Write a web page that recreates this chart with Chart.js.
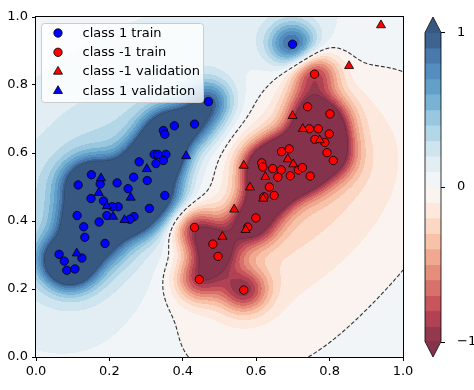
<!DOCTYPE html>
<html>
<head>
<meta charset="utf-8">
<script src="https://cdn.jsdelivr.net/npm/chart.js@4.4.1/dist/chart.umd.min.js"></script>
<style>
  html, body { margin: 0; padding: 0; background: #ffffff; }
  #vis { width: 474px; height: 390px; }
</style>
</head>
<body>
<div id="vis"><canvas id="svmChart" width="474" height="390" style="width:474px;height:390px"></canvas></div>
<script>
// points, [x, y]
const classOneTrain = [
  [0.377, 0.680], [0.432, 0.685], [0.347, 0.666], [0.351, 0.655], [0.322, 0.596],
  [0.332, 0.596], [0.354, 0.596], [0.327, 0.569], [0.347, 0.578], [0.281, 0.574],
  [0.151, 0.536], [0.115, 0.506], [0.221, 0.512], [0.266, 0.529], [0.303, 0.519],
  [0.251, 0.495], [0.175, 0.509], [0.150, 0.466], [0.184, 0.459], [0.224, 0.442],
  [0.208, 0.442], [0.351, 0.475], [0.309, 0.437], [0.193, 0.416], [0.267, 0.413],
  [0.256, 0.405], [0.112, 0.416], [0.172, 0.397], [0.130, 0.383], [0.133, 0.352],
  [0.188, 0.334], [0.063, 0.302], [0.077, 0.282], [0.125, 0.291], [0.084, 0.255],
  [0.106, 0.259], [0.470, 0.751], [0.699, 0.920]
];
const classMinusOneTrain = [
  [0.740, 0.736], [0.801, 0.715], [0.745, 0.671], [0.769, 0.671], [0.799, 0.656],
  [0.760, 0.640], [0.787, 0.631], [0.793, 0.601], [0.810, 0.578], [0.669, 0.604],
  [0.690, 0.612], [0.615, 0.571], [0.618, 0.559], [0.645, 0.554], [0.668, 0.550],
  [0.715, 0.550], [0.726, 0.557], [0.659, 0.529], [0.693, 0.533], [0.747, 0.532],
  [0.636, 0.500], [0.649, 0.475], [0.621, 0.471], [0.599, 0.409], [0.577, 0.382],
  [0.432, 0.381], [0.482, 0.332], [0.496, 0.296], [0.445, 0.228], [0.566, 0.197],
  [0.759, 0.832]
];
const classMinusOneVal = [
  [0.699, 0.709], [0.727, 0.671], [0.773, 0.638], [0.686, 0.582], [0.701, 0.567],
  [0.566, 0.563], [0.625, 0.530], [0.583, 0.499], [0.619, 0.466], [0.540, 0.434],
  [0.571, 0.374], [0.508, 0.354], [0.940, 0.976], [0.853, 0.856]
];
const classOneVal = [
  [0.409, 0.591], [0.302, 0.553], [0.177, 0.526], [0.171, 0.483], [0.258, 0.469],
  [0.193, 0.444], [0.210, 0.413], [0.241, 0.403], [0.111, 0.305]
];

const axisTicks = [0.0, 0.2, 0.4, 0.6, 0.8, 1.0];
const colorbarTicks = [-1, 0, 1];
const contourLevels = [-1.0, -0.9, -0.8, -0.7, -0.6, -0.5, -0.4, -0.3, -0.2, -0.1, 0.0,
                       0.1, 0.2, 0.3, 0.4, 0.5, 0.6, 0.7, 0.8, 0.9, 1.0];
const legendLabels = ['class 1 train', 'class -1 train', 'class -1 validation', 'class 1 validation'];

// kernel model of the decision function, fitted by eye:
// a narrow bump per training point plus a wide, density-normalised class "presence"
const bias = 0.044;
const narrowAmp = 0.85, narrowSigma = 0.045, narrowPower = 0.5;
const wideAmp = 0.35, wideSigma = 0.2;
const fillAlpha = 0.8;

const gNarrow = 1 / (2 * narrowSigma * narrowSigma);
const gWide = 1 / (2 * wideSigma * wideSigma);

function densityWeights(points, g, power) {
    return points.map(p => Math.pow(points.reduce((s, q) => {
        const dx = p[0] - q[0], dy = p[1] - q[1];
        return s + Math.exp(-(dx * dx + dy * dy) * g);
    }, 0), -power));
}
const blueWide = densityWeights(classOneTrain, gWide, 1);
const redWide = densityWeights(classMinusOneTrain, gWide, 1);
const blueNarrow = densityWeights(classOneTrain, gNarrow, narrowPower);
const redNarrow = densityWeights(classMinusOneTrain, gNarrow, narrowPower);

function decision(x, y) {
    let s = bias;
    classOneTrain.forEach((p, i) => {
        const dx = x - p[0], dy = y - p[1];
        const d2 = dx * dx + dy * dy;
        s += narrowAmp * blueNarrow[i] * Math.exp(-d2 * gNarrow) + wideAmp * blueWide[i] * Math.exp(-d2 * gWide);
    });
    classMinusOneTrain.forEach((p, i) => {
        const dx = x - p[0], dy = y - p[1];
        const d2 = dx * dx + dy * dy;
        s -= narrowAmp * redNarrow[i] * Math.exp(-d2 * gNarrow) + wideAmp * redWide[i] * Math.exp(-d2 * gWide);
    });
    return s;
}

// matplotlib RdBu
const rdbu = [
    [103, 0, 31], [178, 24, 43], [214, 96, 77], [244, 165, 130], [253, 219, 199],
    [247, 247, 247], [209, 229, 240], [146, 197, 222], [67, 147, 195], [33, 102, 172],
    [5, 48, 97]
];
function cmap(t) {
    t = Math.min(1, Math.max(0, t)) * (rdbu.length - 1);
    const i = Math.min(rdbu.length - 2, Math.floor(t));
    const f = t - i;
    return [0, 1, 2].map(c => rdbu[i][c] + (rdbu[i + 1][c] - rdbu[i][c]) * f);
}
function blend(c) {
    return c.map(v => Math.round(v * fillAlpha + 255 * (1 - fillAlpha)));
}
const nBands = contourLevels.length - 1;
const bandColors = [];
for (let k = 0; k < nBands; k++) bandColors.push(blend(cmap((k + 0.5) / nBands)));
const underColor = blend(cmap(0));
const overColor = blend(cmap(1));
const rgb = c => 'rgb(' + c[0] + ',' + c[1] + ',' + c[2] + ')';

function colorFor(v) {
    if (v < contourLevels[0]) return underColor;
    if (v >= contourLevels[nBands]) return overColor;
    let k = Math.floor((v - contourLevels[0]) / (contourLevels[1] - contourLevels[0]));
    if (k < 0) k = 0;
    if (k > nBands - 1) k = nBands - 1;
    return bandColors[k];
}

// marching squares, returns chained polylines in data coords
function contourLines(level, n) {
    const vals = new Float64Array((n + 1) * (n + 1));
    for (let i = 0; i <= n; i++)
        for (let j = 0; j <= n; j++)
            vals[i * (n + 1) + j] = decision(i / n, j / n) - level;
    const V = (i, j) => vals[i * (n + 1) + j];
    const pts = new Map();
    const hEdge = (i, j) => {
        const id = 2 * (i * (n + 1) + j);
        if (!pts.has(id)) { const a = V(i, j), b = V(i + 1, j); const t = a / (a - b); pts.set(id, [(i + t) / n, j / n]); }
        return id;
    };
    const vEdge = (i, j) => {
        const id = 2 * (i * (n + 1) + j) + 1;
        if (!pts.has(id)) { const a = V(i, j), b = V(i, j + 1); const t = a / (a - b); pts.set(id, [i / n, (j + t) / n]); }
        return id;
    };
    const segs = [];
    const adj = new Map();
    const addSeg = (e1, e2) => {
        const k = segs.length;
        segs.push([e1, e2]);
        if (!adj.has(e1)) adj.set(e1, []);
        if (!adj.has(e2)) adj.set(e2, []);
        adj.get(e1).push(k);
        adj.get(e2).push(k);
    };
    for (let i = 0; i < n; i++) {
        for (let j = 0; j < n; j++) {
            const a = V(i, j) > 0, b = V(i + 1, j) > 0, c = V(i + 1, j + 1) > 0, d = V(i, j + 1) > 0;
            const crossed = [];
            if (a !== b) crossed.push(hEdge(i, j));
            if (b !== c) crossed.push(vEdge(i + 1, j));
            if (c !== d) crossed.push(hEdge(i, j + 1));
            if (d !== a) crossed.push(vEdge(i, j));
            if (crossed.length === 2) {
                addSeg(crossed[0], crossed[1]);
            } else if (crossed.length === 4) {
                const centre = (V(i, j) + V(i + 1, j) + V(i + 1, j + 1) + V(i, j + 1)) > 0;
                const bottom = crossed[0], right = crossed[1], top = crossed[2], left = crossed[3];
                if (a !== centre) addSeg(left, bottom);
                if (b !== centre) addSeg(bottom, right);
                if (c !== centre) addSeg(right, top);
                if (d !== centre) addSeg(top, left);
            }
        }
    }
    const used = new Uint8Array(segs.length);
    const chains = [];
    const walk = (start, chain, push) => {
        let cur = start;
        for (;;) {
            const next = (adj.get(cur) || []).find(k => !used[k]);
            if (next === undefined) break;
            used[next] = 1;
            const other = segs[next][0] === cur ? segs[next][1] : segs[next][0];
            push ? chain.push(other) : chain.unshift(other);
            cur = other;
        }
    };
    for (let s = 0; s < segs.length; s++) {
        if (used[s]) continue;
        used[s] = 1;
        const chain = [segs[s][0], segs[s][1]];
        walk(segs[s][1], chain, true);
        walk(segs[s][0], chain, false);
        chains.push(chain.map(id => pts.get(id)));
    }
    return chains;
}

let fieldCanvas = null;
let zeroChains = null, plusChains = null, minusChains = null;

function strokeChains(ctx, chains, xs, ys) {
    for (const ch of chains) {
        ctx.beginPath();
        ch.forEach((p, i) => {
            const px = xs.getPixelForValue(p[0]), py = ys.getPixelForValue(p[1]);
            if (i === 0) ctx.moveTo(px, py); else ctx.lineTo(px, py);
        });
        ctx.stroke();
    }
}

const fieldPlugin = {
    id: 'decisionField',
    beforeDatasetsDraw(chart) {
        const {ctx, chartArea} = chart;
        const xs = chart.scales.x, ys = chart.scales.y;
        const left = Math.round(chartArea.left), top = Math.round(chartArea.top);
        const w = Math.round(chartArea.right) - left, h = Math.round(chartArea.bottom) - top;

        if (!fieldCanvas) {
            fieldCanvas = document.createElement('canvas');
            fieldCanvas.width = w;
            fieldCanvas.height = h;
            const fctx = fieldCanvas.getContext('2d');
            const img = fctx.createImageData(w, h);
            const xv = [];
            for (let px = 0; px < w; px++) xv.push(xs.getValueForPixel(left + px + 0.5));
            for (let py = 0; py < h; py++) {
                const yv = ys.getValueForPixel(top + py + 0.5);
                for (let px = 0; px < w; px++) {
                    const c = colorFor(decision(xv[px], yv));
                    const o = (py * w + px) * 4;
                    img.data[o] = c[0]; img.data[o + 1] = c[1]; img.data[o + 2] = c[2]; img.data[o + 3] = 255;
                }
            }
            fctx.putImageData(img, 0, 0);
            zeroChains = contourLines(0, 220);
            plusChains = contourLines(1, 220);
            minusChains = contourLines(-1, 220);
        }
        ctx.save();
        ctx.drawImage(fieldCanvas, left, top);

        ctx.beginPath();
        ctx.rect(chartArea.left, chartArea.top, chartArea.right - chartArea.left, chartArea.bottom - chartArea.top);
        ctx.clip();

        ctx.lineWidth = 0.6;
        ctx.strokeStyle = 'rgba(0,0,0,0.25)';
        strokeChains(ctx, plusChains, xs, ys);
        strokeChains(ctx, minusChains, xs, ys);

        ctx.lineWidth = 1.1;
        ctx.strokeStyle = '#333333';
        ctx.setLineDash([4, 2]);
        strokeChains(ctx, zeroChains, xs, ys);
        ctx.restore();

        // spines
        ctx.save();
        ctx.strokeStyle = '#000';
        ctx.lineWidth = 1;
        ctx.strokeRect(left - 0.5, top - 0.5, w + 1, h + 1);
        ctx.restore();
    }
};

function roundRect(ctx, x, y, w, h, r) {
    ctx.beginPath();
    ctx.moveTo(x + r, y);
    ctx.arcTo(x + w, y, x + w, y + h, r);
    ctx.arcTo(x + w, y + h, x, y + h, r);
    ctx.arcTo(x, y + h, x, y, r);
    ctx.arcTo(x, y, x + w, y, r);
    ctx.closePath();
}

const legendPlugin = {
    id: 'insideLegend',
    afterDatasetsDraw(chart) {
        const {ctx, chartArea} = chart;
        const bx = chartArea.left + 5.5, by = chartArea.top + 6.5, bw = 162, bh = 79;
        ctx.save();
        roundRect(ctx, bx, by, bw, bh, 3);
        ctx.fillStyle = 'rgba(255,255,255,0.8)';
        ctx.fill();
        ctx.strokeStyle = '#cccccc';
        ctx.lineWidth = 1;
        ctx.stroke();

        ctx.font = '13px "DejaVu Sans"';
        ctx.textBaseline = 'middle';
        ctx.textAlign = 'left';
        chart.data.datasets.forEach((ds, i) => {
            const y = by + 9.5 + i * 19.3;
            const x = bx + 16.5;
            ctx.fillStyle = ds.backgroundColor;
            ctx.strokeStyle = ds.borderColor;
            ctx.lineWidth = ds.borderWidth;
            Chart.helpers.drawPoint(ctx, {pointStyle: ds.pointStyle, radius: ds.pointRadius, borderWidth: ds.borderWidth, rotation: 0}, x, y);
            ctx.fillStyle = '#000';
            ctx.fillText(ds.label, bx + 41, y + 0.5);
        });
        ctx.restore();
    }
};

const colorbarPlugin = {
    id: 'colorbar',
    afterDraw(chart) {
        const {ctx, chartArea} = chart;
        const cb = chart.scales.cb;
        const x0 = Math.round(chartArea.right) + 22, bw = 16, x1 = x0 + bw;
        const yTop = cb.getPixelForValue(contourLevels[nBands]);
        const yBot = cb.getPixelForValue(contourLevels[0]);
        const tipTop = cb.getPixelForValue(cb.max);
        const tipBot = cb.getPixelForValue(cb.min);
        ctx.save();
        for (let k = 0; k < nBands; k++) {
            const ya = cb.getPixelForValue(contourLevels[k + 1]);
            const yb = cb.getPixelForValue(contourLevels[k]);
            ctx.fillStyle = rgb(bandColors[k]);
            ctx.fillRect(x0, ya, bw, yb - ya + 0.5);
        }
        ctx.fillStyle = rgb(overColor);
        ctx.beginPath();
        ctx.moveTo(x0, yTop + 0.5); ctx.lineTo((x0 + x1) / 2, tipTop); ctx.lineTo(x1, yTop + 0.5); ctx.closePath();
        ctx.fill();
        ctx.fillStyle = rgb(underColor);
        ctx.beginPath();
        ctx.moveTo(x0, yBot - 0.5); ctx.lineTo((x0 + x1) / 2, tipBot); ctx.lineTo(x1, yBot - 0.5); ctx.closePath();
        ctx.fill();

        ctx.strokeStyle = '#000';
        ctx.lineWidth = 0.8;
        ctx.beginPath();
        ctx.moveTo(x0, yTop); ctx.lineTo((x0 + x1) / 2, tipTop); ctx.lineTo(x1, yTop);
        ctx.lineTo(x1, yBot); ctx.lineTo((x0 + x1) / 2, tipBot); ctx.lineTo(x0, yBot);
        ctx.closePath();
        ctx.stroke();

        ctx.lineWidth = 1;
        colorbarTicks.forEach(v => {
            const y = Math.round(cb.getPixelForValue(v)) + 0.5;
            ctx.beginPath();
            ctx.moveTo(x1, y); ctx.lineTo(x1 + 4, y);
            ctx.stroke();
        });
        ctx.restore();
    }
};

const toXY = arr => arr.map(p => ({x: p[0], y: p[1]}));
const fmtTick = v => (v < 0 ? '\u2212' + Math.abs(v) : String(v));

Chart.defaults.font.family = '"DejaVu Sans", sans-serif';
Chart.defaults.font.size = 13;
Chart.defaults.color = '#000';

const ctx = document.getElementById('svmChart');
const myChart = new Chart(ctx, {
    type: 'scatter',
    data: {
        datasets: [
            {label: legendLabels[0], data: toXY(classOneTrain), pointStyle: 'circle', pointRadius: 4.2,
             backgroundColor: '#0000ff', borderColor: '#000000', borderWidth: 0.8, order: 4},
            {label: legendLabels[1], data: toXY(classMinusOneTrain), pointStyle: 'circle', pointRadius: 4.2,
             backgroundColor: '#ff0000', borderColor: '#000000', borderWidth: 0.8, order: 3},
            {label: legendLabels[2], data: toXY(classMinusOneVal), pointStyle: 'triangle', pointRadius: 5.2,
             backgroundColor: '#ff0000', borderColor: '#000000', borderWidth: 0.8, order: 2},
            {label: legendLabels[3], data: toXY(classOneVal), pointStyle: 'triangle', pointRadius: 5.2,
             backgroundColor: '#0000ff', borderColor: '#000000', borderWidth: 0.8, order: 1}
        ]
    },
    options: {
        responsive: false,
        animation: false,
        events: [],
        layout: {padding: {top: 17, left: 0, right: 0, bottom: 0}},
        plugins: {legend: {display: false}, tooltip: {enabled: false}},
        scales: {
            x: {
                type: 'linear', min: 0, max: 1,
                afterBuildTicks: s => { s.ticks = axisTicks.map(v => ({value: v})); },
                afterFit: s => { s.height = 33; s.paddingLeft = 0; s.paddingRight = 0; },
                ticks: {callback: v => v.toFixed(1), padding: 3, maxRotation: 0},
                grid: {drawOnChartArea: false, drawTicks: true, tickLength: 4, color: '#000'},
                border: {display: true, color: '#000'}
            },
            y: {
                type: 'linear', min: 0, max: 1,
                afterBuildTicks: s => { s.ticks = axisTicks.map(v => ({value: v})); },
                afterFit: s => { s.width = 36; s.paddingTop = 0; s.paddingBottom = 0; },
                ticks: {callback: v => v.toFixed(1), padding: 4},
                grid: {drawOnChartArea: false, drawTicks: true, tickLength: 4, color: '#000'},
                border: {display: true, color: '#000'}
            },
            cb: {
                type: 'linear', axis: 'y', position: 'right', min: -1.1, max: 1.1,
                afterBuildTicks: s => { s.ticks = colorbarTicks.map(v => ({value: v})); },
                afterFit: s => { s.width = 71; s.paddingTop = 0; s.paddingBottom = 0; },
                ticks: {callback: fmtTick, padding: 46},
                grid: {display: false},
                border: {display: false}
            }
        }
    },
    plugins: [fieldPlugin, legendPlugin, colorbarPlugin]
});
console.log(myChart.chartArea);
</script>
</body>
</html>
